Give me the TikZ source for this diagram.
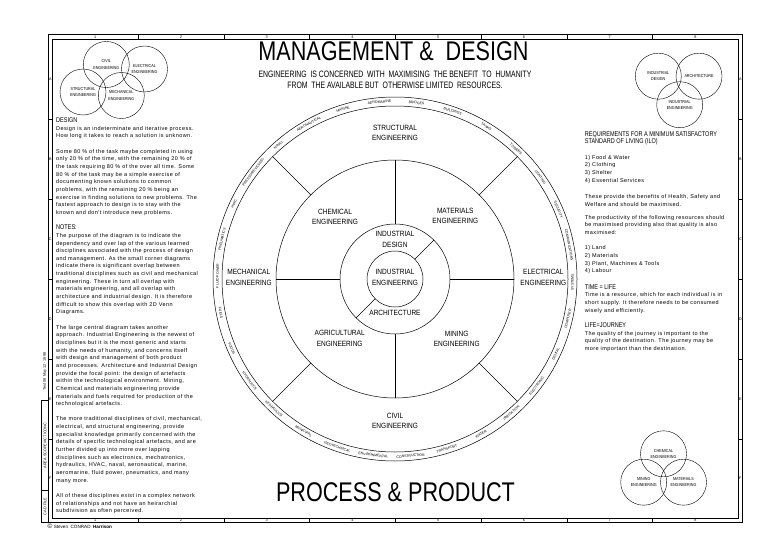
\documentclass[tikz,border=0pt]{standalone}
\usepackage{fontspec}
\setmainfont{Liberation Sans}
\newfontfamily\narrowfont[FakeStretch=0.8]{Liberation Sans}
\newfontfamily\fieldfont[FakeStretch=0.86]{Liberation Sans}
\newfontfamily\subfont[FakeStretch=0.74]{Liberation Sans}
\newfontfamily\bodyfont[LetterSpace=8]{Liberation Sans}
\newcommand{\capsline}[1]{{\narrowfont\fontsize{6.9}{7.65}\selectfont #1}}

\tikzset{
    ringline/.style={circle, draw, inner sep=0pt, outer sep=0pt, line width=0.5pt},
    vennline/.style={circle, draw, inner sep=0pt, outer sep=0pt, line width=0.4pt, minimum size=46pt, align=center, font=\fieldfont\fontsize{4.3}{6.3}\selectfont},
    spokeline/.style={line width=0.55pt},
    fieldtext/.style={align=center, font=\fieldfont\fontsize{7.6}{10.6}\selectfont},
    bandtext/.style={font=\fontsize{3.5}{4}\selectfont, inner sep=0pt},
    zonetext/.style={font=\fontsize{3.8}{4}\selectfont, inner sep=0pt},
    notetext/.style={anchor=north west, align=left, inner sep=0pt, font=\bodyfont\fontsize{5.5}{7.65}\selectfont},
}

\begin{document}
\begin{tikzpicture}[x=1pt, y=-1pt]
\useasboundingbox (0, 0) rectangle (768, 543);

% sheet frame and zones
\draw[line width=0.8pt] (48.3, 34.3) rectangle (742.5, 522.5);
\draw[line width=0.8pt] (52.3, 39.3) rectangle (738.3, 518.3);
\foreach \x [count=\i] in {95.2, 181, 266.7, 352.4, 438.1, 523.9, 609.6, 695.4} {
    \node[zonetext] (top\i) at (\x, 36.8) {\i};
    \node[zonetext] (bot\i) at (\x, 520.4) {\i};
}
\foreach \x in {138, 223.8, 309.5, 395.3, 481, 566.8, 652.5} {
    \draw[line width=0.5pt] (\x, 34.3) -- (\x, 39.3);
    \draw[line width=0.5pt] (\x, 518.3) -- (\x, 522.5);
}
\foreach \y/\z [count=\i] in {79/A, 159/B, 239/C, 319/D, 399/E, 478.5/F} {
    \node[zonetext] (lefta\i) at (50.3, \y) {\z};
    \node[zonetext] (righta\i) at (740.4, \y) {\z};
}
\foreach \y in {119, 199, 279, 359, 439} {
    \draw[line width=0.5pt] (48.3, \y) -- (52.3, \y);
    \draw[line width=0.5pt] (738.3, \y) -- (742.5, \y);
}

% title block
\draw[line width=0.5pt] (41.7, 400) rectangle (48.3, 522.5);
\draw[line width=0.5pt] (41.7, 490.7) -- (48.3, 490.7);
\node[zonetext, rotate=90] (area) at (45, 445.5) {AREA SCOPE/ACT/CONC};
\node[zonetext, rotate=90] (cell) at (45, 506.5) {CAD FILE};
\node[zonetext, rotate=90] (date) at (45, 371.5) {Test 08 May 12 - 1998};
\node[anchor=west, inner sep=0pt, font=\fontsize{4.6}{5}\selectfont] (owner) at (47.5, 526.3) {{\fontsize{6.5}{7}\selectfont\textcopyright}\ Steven\ \ CONRAD\ \ \textbf{Harrison}};

% headings
\node[font=\narrowfont\fontsize{27}{30}\selectfont] (head) at (393.5, 51.3) {MANAGEMENT \& \ DESIGN};
\node[font=\narrowfont\fontsize{27}{30}\selectfont] (foot) at (395.5, 492.5) {PROCESS \& PRODUCT};
\node[font=\subfont\fontsize{9.3}{11}\selectfont] (suba) at (395, 74) {ENGINEERING\ \ IS CONCERNED\ \ WITH\ \ MAXIMISING\ \ THE BENEFIT\ \ TO\ \ HUMANITY};
\node[font=\subfont\fontsize{9.3}{11}\selectfont] (subb) at (395, 85) {FROM\ \ THE AVAILABLE BUT\ \ OTHERWISE LIMITED\ \ RESOURCES.};

% central diagram
\coordinate (mid) at (395, 279);
\node[ringline, minimum size=56pt] (ringa) at (mid) {};
\node[ringline, minimum size=110pt] (ringb) at (mid) {};
\node[ringline, minimum size=238pt] (ringc) at (mid) {};
\node[ringline, minimum size=346pt] (ringd) at (mid) {};
\node[ringline, minimum size=364pt] (ringe) at (mid) {};
\node[circle, inner sep=0pt, outer sep=0pt, minimum size=355pt] (ringm) at (mid) {};

\draw[spokeline] (ringa.45) -- (ringb.45);
\draw[spokeline] (ringa.225) -- (ringb.225);
\foreach \a in {0, 90, 180, 270} {
    \draw[spokeline] (ringb.\a) -- (ringc.\a);
}
\foreach \a in {45, 135, 225, 315} {
    \draw[spokeline] (ringc.\a) -- (ringd.\a);
}

\node[fieldtext] (struct) at (395, 133) {STRUCTURAL\\ENGINEERING};
\node[fieldtext] (chem) at (335, 217) {CHEMICAL\\ENGINEERING};
\node[fieldtext] (mater) at (455.3, 216) {MATERIALS\\ENGINEERING};
\node[fieldtext] (mech) at (248.8, 277.3) {MECHANICAL\\ENGINEERING};
\node[fieldtext] (elec) at (543.3, 277.3) {ELECTRICAL\\ENGINEERING};
\node[fieldtext] (inddes) at (395, 239.6) {INDUSTRIAL\\DESIGN};
\node[fieldtext] (indeng) at (395, 277.3) {INDUSTRIAL\\ENGINEERING};
\node[fieldtext] (arch) at (395, 313.3) {ARCHITECTURE};
\node[fieldtext] (agri) at (339.7, 338.5) {AGRICULTURAL\\ENGINEERING};
\node[fieldtext] (mining) at (456.7, 338.7) {MINING\\ENGINEERING};
\node[fieldtext] (civil) at (395, 420.8) {CIVIL\\ENGINEERING};

% outer band, one word every 12 degrees
\foreach \word [count=\i] in {FLUID POWER, PNEUMATICS, HVAC, PRESSURE VESSEL, NAVAL, AERONAUTICAL, MARINE, AEROMARINE, BRIDGES, BUILDINGS, TANKS, TOWERS, LIGHTING, SECURITY, COMMUNICATIONS, SYSTEMS, COMPUTER, DIGITAL, ELECTRONIC, IRRIGATION, WATER, TRANSPORT, CONSTRUCTION, ENVIRONMENTAL, GEOTECHNICAL, MUNICIPAL, HYDRAULICS, HYDRAULICS, FOODS, FUELS} {
    \pgfmathsetmacro{\ang}{191-12*\i}
    \pgfmathsetmacro{\turn}{\ang > 0 ? \ang-90 : \ang+90}
    \node[bandtext, rotate=\turn] (band\i) at (ringm.\ang) {\word};
}

% corner diagrams
\node[vennline] (vcivil) at (106.3, 64.5) {CIVIL\\ENGINEERING};
\node[vennline] (velec) at (144.5, 69) {ELECTRICAL\\ENGINEERING};
\node[vennline] (vstruct) at (83, 92) {STRUCTURAL\\ENGINEERING};
\node[vennline] (vmech) at (121.3, 95.5) {MECHANICAL\\ENGINEERING};

\node[vennline] (vdes) at (658.3, 76.2) {INDUSTRIAL\\DESIGN};
\node[vennline] (varch) at (699, 76.2) {ARCHITECTURE};
\node[vennline] (vind) at (679.7, 104.7) {INDUSTRIAL\\ENGINEERING};

\node[vennline] (vchem) at (663.5, 453.8) {CHEMICAL\\ENGINEERING};
\node[vennline] (vmin) at (643.7, 482.2) {MINING\\ENGINEERING};
\node[vennline] (vmat) at (683.5, 482.2) {MATERIALS\\ENGINEERING};

% notes
\node[notetext] (notesl) at (56, 117.6) {\capsline{DESIGN}\\
Design is an indeterminate and iterative process.\\
How long it takes to reach a solution is unknown.\\[7.65pt]
Some 80 \% of the task maybe completed in using\\
only 20 \% of the time, with the remaining 20 \% of\\
the task requiring 80 \% of the over all time. Some\\
80 \% of the task may be a simple exercise of\\
documenting known solutions to common\\
problems, with the remaining 20 \% being an\\
exercise in finding solutions to new problems. The\\
fastest approach to design is to stay with the\\
known and don't introduce new problems.\\[7.65pt]
\capsline{NOTES:}\\
The purpose of the diagram is to indicate the\\
dependency and over lap of the various learned\\
disciplines associated with the process of design\\
and management. As the small corner diagrams\\
indicate there is significant overlap between\\
traditional disciplines such as civil and mechanical\\
engineering. These in turn all overlap with\\
materials engineering, and all overlap with\\
architecture and industrial design. It is therefore\\
difficult to show this overlap with 2D Venn\\
Diagrams.\\[7.65pt]
The large central diagram takes another\\
approach. Industrial Engineering is the newest of\\
disciplines but it is the most generic and starts\\
with the needs of humanity, and concerns itself\\
with design and management of both product\\
and processes. Architecture and Industrial Design\\
provide the focal point: the design of artefacts\\
within the technological environment. Mining,\\
Chemical and materials engineering provide\\
materials and fuels required for production of the\\
technological artefacts.\\[7.65pt]
The more traditional disciplines of civil, mechanical,\\
electrical, and structural engineering, provide\\
specialist knowledge primarily concerned with the\\
details of specific technological artefacts, and are\\
further divided up into more over lapping\\
disciplines such as electronics, mechatronics,\\
hydraulics, HVAC, naval, aeronautical, marine,\\
aeromarine, fluid power, pneumatics, and many\\
many more.\\[7.65pt]
All of these disciplines exist in a complex network\\
of relationships and not have an heirarchial\\
subdivision as often perceived.};

\node[notetext] (needs) at (584.7, 131.3) {\capsline{REQUIREMENTS FOR A MINIMUM SATISFACTORY}\\
\capsline{STANDARD OF LIVING (ILO)}};
\node[notetext] (goods) at (584.7, 155) {1) Food \& Water\\
2) Clothing\\
3) Shelter\\
4) Essential Services};
\node[notetext] (bens) at (584.7, 194.6) {These provide the benefits of Health, Safety and\\
Welfare and should be maximised.};
\node[notetext] (prod) at (584.7, 215) {The productivity of the following resources should\\
be maximised providing also that quality is also\\
maximised:};
\node[notetext] (land) at (584.7, 245.6) {1) Land\\
2) Materials\\
3) Plant, Machines \& Tools\\
4) Labour};
\node[notetext] (time) at (584.7, 284.3) {\capsline{TIME = LIFE}\\
Time is a resource, which for each individual is in\\
short supply. It therefore needs to be consumed\\
wisely and efficiently.};
\node[notetext] (life) at (584.7, 322.6) {\capsline{LIFE=JOURNEY}\\
The quality of the journey is important to the\\
quality of the destination. The journey may be\\
more important than the destination.};
\end{tikzpicture}
\end{document}
